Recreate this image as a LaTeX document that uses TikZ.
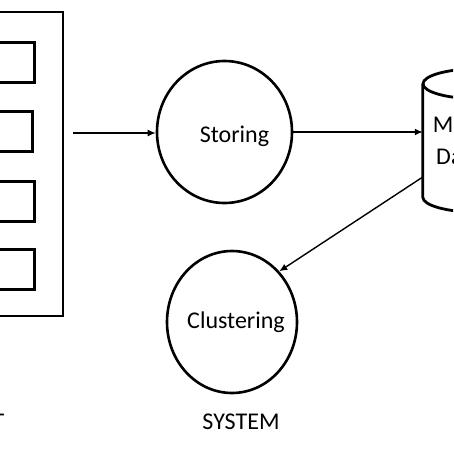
\documentclass[tikz,border=0pt]{standalone}
\usepackage{fontspec}
\setmainfont{Carlito}
\usetikzlibrary{arrows.meta,shapes.geometric}
\begin{document}
\begin{tikzpicture}[x=1pt,y=-1pt,
  lbl/.style={font=\fontsize{24}{29}\selectfont, inner sep=0pt},
  proc/.style={ellipse, draw, line width=2.6pt, minimum width=135pt, minimum height=142pt, inner sep=0pt, font=\fontsize{24}{29}\selectfont},
  box/.style={draw, line width=3pt, minimum width=60pt, minimum height=40pt, inner sep=0pt},
  group/.style={draw, line width=1.2pt, inner sep=0pt},
  dbwall/.style={line width=2.8pt},
  arr/.style={line width=1.4pt, -{Latex[length=8pt,width=7pt]}}]
\clip (0,0) rectangle (453,453);
\fill[white] (0,0) rectangle (453,453);
% client group
\node[group, minimum width=103pt, minimum height=304pt] (grp) at (11.5,164) {};
\node[box] (b1) at (4,62) {};
\node[box] (b2) at (2,131.5) {};
\node[box] (b3) at (4,201) {};
\node[box] (b4) at (4,269.5) {};
\node[lbl, anchor=east] (clientlbl) at (4.5,422) {CLIENT};
% processes
\node[proc] (storing) at (224.5,132) {\makebox[0pt][c]{\raisebox{-10.5pt}[0pt][0pt]{\hspace{20pt}Storing}}};
\node[proc, minimum width=130pt] (clustering) at (232,322) {\makebox[0pt][c]{\raisebox{-6.5pt}[0pt][0pt]{\hspace{8pt}Clustering}}};
\node[lbl] (system) at (241,422) {SYSTEM};
% database cylinder
\node[inner sep=0pt, minimum width=110pt, minimum height=113pt] (db) at (478,140.5) {};
\draw[dbwall] (db.north) ellipse [x radius=55, y radius=15];
\draw[dbwall] (db.north west) -- (db.south west) arc[start angle=180, end angle=0, x radius=55, y radius=15] -- (db.north east);
\node[lbl, align=center, font=\fontsize{24}{32}\selectfont] (dbtext) at (481.6,141) {MongoDB\\Database};
% connectors
\coordinate (a0) at (73,133);
\draw[arr] (a0) -- (a0 -| storing.west);
\draw[arr] (storing.east) -- (storing.east -| db.west);
\draw[arr] ([yshift=-36.5pt]db.west) -- (clustering.47);
\end{tikzpicture}
\end{document}
